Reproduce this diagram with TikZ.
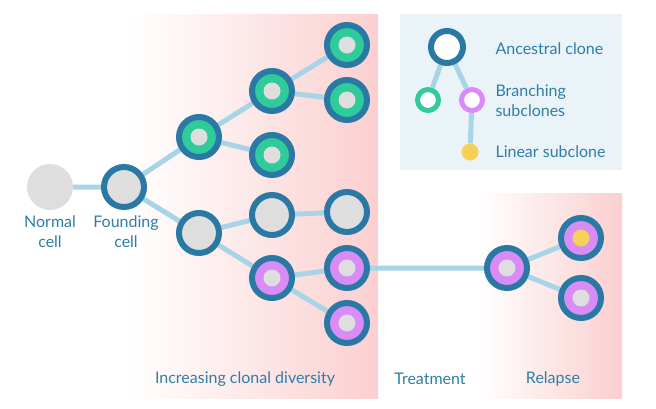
\documentclass[tikz,border=0pt]{standalone}
\usepackage{fontspec}
\setmainfont{Lato}
\usetikzlibrary{backgrounds}
\definecolor{cblue}{HTML}{2A78A4}
\definecolor{cgreen}{HTML}{2FCB9B}
\definecolor{cpurple}{HTML}{D98CF5}
\definecolor{cgray}{HTML}{DEDEDE}
\definecolor{cedge}{HTML}{A8D4E8}
\definecolor{ctext}{HTML}{2E7EA8}
\definecolor{clegend}{HTML}{EAF3F8}
\definecolor{cpink}{HTML}{FBCFCF}
\definecolor{cyellow}{HTML}{F5D255}
\tikzset{
  clone/.style={circle, inner sep=0, minimum size=40pt, draw=cblue, line width=6pt, fill=#1,
    path picture={\fill[cgray] (path picture bounding box.center) circle (8.5pt);}},
  clone/.default=cgray,
  yclone/.style={clone=cpurple,
    path picture={\fill[cyellow] (path picture bounding box.center) circle (8.5pt);}},
  edge/.style={draw=cedge, line width=5pt},
  lbl/.style={text=ctext, font=\fontsize{16}{20}\selectfont, align=center},
}
\begin{document}
\begin{tikzpicture}[x=1pt, y=-1pt]
\useasboundingbox (0,0) rectangle (656,408);
% nodes
\node[circle, fill=cgray, minimum size=46pt, inner sep=0] (n) at (50,187) {};
\node[clone] (f) at (124,187) {};
\node[clone=cgreen] (a) at (199,137) {};
\node[clone] (b) at (199,233) {};
\node[clone=cgreen] (a1) at (272,91) {};
\node[clone=cgreen] (a2) at (272,155) {};
\node[clone=cgreen] (a11) at (347,45) {};
\node[clone=cgreen] (a12) at (347,100) {};
\node[clone] (b1) at (272,215) {};
\node[clone=cpurple] (b2) at (272,278) {};
\node[clone] (b11) at (347,212) {};
\node[clone=cpurple] (b21) at (347,268) {};
\node[clone=cpurple] (b22) at (347,323) {};
\node[clone=cpurple] (r) at (507,268) {};
\node[yclone] (r1) at (581,238) {};
\node[clone=cpurple] (r2) at (581,298) {};
% labels
\node[lbl] (ln) at (50,232) {Normal\\cell};
\node[lbl] (lf) at (126,232) {Founding\\cell};
\node[lbl] (l1) at (245,379) {Increasing clonal diversity};
\node[lbl] (l2) at (430,379) {Treatment};
\node[lbl] (l3) at (553,379) {Relapse};
% legend
\node[circle, inner sep=0, minimum size=32pt, draw=cblue, line width=6pt, fill=white] (ga) at (447,47) {};
\node[circle, inner sep=0, minimum size=21pt, draw=cgreen, line width=5pt, fill=white] (gg) at (428,100) {};
\node[circle, inner sep=0, minimum size=21pt, draw=cpurple, line width=5pt, fill=white] (gp) at (472,100) {};
\node[circle, inner sep=0, minimum size=17pt, fill=cyellow] (gy) at (470,152) {};
\node[lbl, anchor=west] (t1) at (492,49) {Ancestral clone};
\node[lbl, anchor=west, align=left] (t2) at (492,101) {Branching\\subclones};
\node[lbl, anchor=west] (t3) at (492,152) {Linear subclone};
\begin{scope}[on background layer]
  \shade[left color=white, right color=cpink] (130,14) rectangle (378,398);
  \shade[left color=white, right color=cpink] (478,193) rectangle (622,398);
  \fill[clegend] (400,14) rectangle (622,170);
  \path[edge] (n) -- (f) (f) -- (a) (f) -- (b) (a) -- (a1) (a) -- (a2)
    (a1) -- (a11) (a1) -- (a12) (b) -- (b1) (b) -- (b2) (b1) -- (b11)
    (b2) -- (b21) (b2) -- (b22) (b21) -- (r) (r) -- (r1) (r) -- (r2)
    (ga) -- (gg) (ga) -- (gp) (gp) -- (gy);
\end{scope}
\end{tikzpicture}
\end{document}
